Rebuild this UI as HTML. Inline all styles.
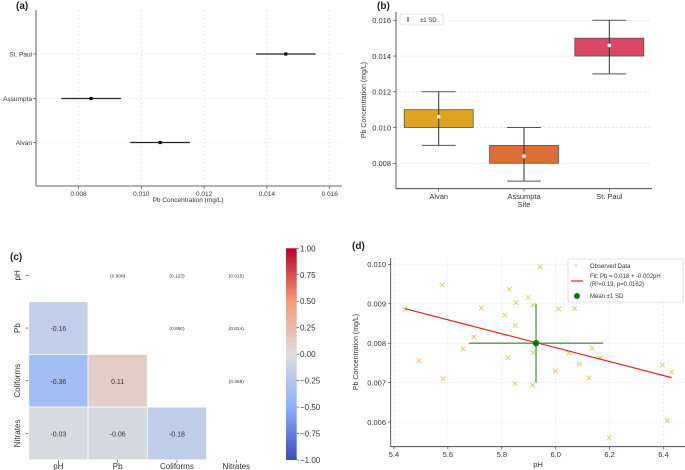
<!DOCTYPE html>
<html><head><meta charset="utf-8"><style>
html,body{margin:0;padding:0;background:#fff}
svg{display:block;font-family:"Liberation Sans",sans-serif}
</style></head><body>
<svg id="s" width="685" height="470" viewBox="0 0 685 470" xmlns="http://www.w3.org/2000/svg"></svg>
<script>
// ---- Panel a data
const aSites=["Alvan","Assumpta","St. Paul"];
const aMeans=[0.0106,0.0084,0.0146];
const aSD=[0.00095,0.00095,0.00095];
const aTicks=[0.008,0.010,0.012,0.014,0.016];
// ---- Panel b data
const bSites=["Alvan","Assumpta","St. Paul"];
const bQ1=[0.010,0.008,0.014];
const bQ3=[0.011,0.009,0.015];
const bMeans=[0.0106,0.0084,0.0146];
const bLow=[0.009,0.007,0.013];
const bHigh=[0.012,0.010,0.016];
const bTicks=[0.008,0.010,0.012,0.014,0.016];
// ---- Panel c data
const cVars=["pH","Pb","Coliforms","Nitrates"];
const cLower=[[1,0.0,-0.16,-0.36,-0.03]];
const cR=[[null,null,null,null],[-0.16,null,null,null],[-0.36,0.11,null,null],[-0.03,-0.06,-0.18,null]];
const cP=[[null,"(0.508)","(0.123)","(0.915)"],[null,null,"(0.650)","(0.814)"],[null,null,null,"(0.458)"],[null,null,null,null]];
const cbTicks=[1.00,0.75,0.50,0.25,0.00,-0.25,-0.50,-0.75,-1.00];
// ---- Panel d data
const dPH=[5.441,5.579,5.493,5.582,5.656,5.696,5.724,5.812,5.828,5.852,5.850,5.823,5.850,5.898,5.915,5.942,5.916,5.914,6.011,6.070,5.999,6.049,6.088,6.135,6.123,6.165,6.198,6.396,6.430,6.414];
const dPb=[0.00886,0.00948,0.00756,0.0071,0.00786,0.00816,0.00889,0.00871,0.00937,0.00903,0.00845,0.00763,0.00697,0.00916,0.00897,0.00994,0.00776,0.00694,0.00887,0.00888,0.00729,0.00775,0.00747,0.00787,0.00712,0.00762,0.0056,0.00745,0.00727,0.00604];
const dFit=[0.018507,-0.00177];
const dFitRange=[5.441,6.43];
const dMean=[5.927,0.0080];
const dSD=[0.249,0.001];
const dXTicks=[5.4,5.6,5.8,6.0,6.2,6.4];
const dYTicks=[0.006,0.007,0.008,0.009,0.010];

const S=document.getElementById('s');
const NS="http://www.w3.org/2000/svg";
function mk(tag,at,parent){const e=document.createElementNS(NS,tag);for(const k in at)e.setAttribute(k,at[k]);(parent||S).appendChild(e);return e;}
function tx(str,x,y,at,parent){const e=mk('text',Object.assign({x:x,y:y,'font-size':7,fill:'#333'},at||{}),parent);e.textContent=str;return e;}
function grp(name){const g=mk('g',{});return g;}

// ===== Panel a
{
const g=grp('panel-a');
const ax=v=>78.5+(v-0.008)/0.002*62.8;
const ay=i=>[142.5,98.5,54][i];
tx('(a)',16,9,{'font-size':10,'font-weight':'bold',fill:'#222'},g);
aTicks.forEach(t=>{const x=ax(t);mk('line',{x1:x,x2:x,y1:10,y2:186,stroke:'#ddd','stroke-dasharray':'2,2','stroke-width':0.6},g);
 mk('line',{x1:x,x2:x,y1:186,y2:189,stroke:'#333','stroke-width':0.6},g);
 const l=tx(t.toFixed(3),x,196,{'text-anchor':'middle','font-size':6.5},g);});
aSites.forEach((s,i)=>{const y=ay(i);mk('line',{x1:36,x2:342,y1:y,y2:y,stroke:'#ddd','stroke-dasharray':'2,2','stroke-width':0.6},g);
 mk('line',{x1:33,x2:36,y1:y,y2:y,stroke:'#333','stroke-width':0.6},g);
 tx(s,32,y+2.5,{'text-anchor':'end','font-size':6.5},g);
 const e=mk('line',{x1:ax(aMeans[i]-aSD[i]),x2:ax(aMeans[i]+aSD[i]),y1:y,y2:y,stroke:'#222','stroke-width':1.3},g);
 
 const m=mk('rect',{x:ax(aMeans[i])-1.6,y:y-1.6,width:3.2,height:3.2,fill:'#111'},g);
 });
mk('line',{x1:36,x2:36,y1:10,y2:186,stroke:'#333','stroke-width':0.8},g);
mk('line',{x1:36,x2:342,y1:186,y2:186,stroke:'#333','stroke-width':0.8},g);
const xl=tx('Pb Concentration (mg/L)',188,202,{'text-anchor':'middle','font-size':6.5},g);
}
// ===== Panel b
{
const g=grp('panel-b');
const by=v=>163.3-(v-0.008)/0.002*35.75;
const bx=i=>[438.7,524,609.3][i];
const cols=['#DFA421','#DC6E38','#DB4866'];
tx('(b)',377,9,{'font-size':10,'font-weight':'bold',fill:'#222'},g);
bTicks.forEach(t=>{const y=by(t);mk('line',{x1:396,x2:652,y1:y,y2:y,stroke:'#ddd','stroke-dasharray':'2,2','stroke-width':0.6},g);
 mk('line',{x1:393,x2:396,y1:y,y2:y,stroke:'#333','stroke-width':0.6},g);
 tx(t.toFixed(3),391,y+2.8,{'text-anchor':'end','font-size':7.5},g);});
bSites.forEach((s,i)=>{const x=bx(i);
 mk('line',{x1:x,x2:x,y1:188.7,y2:191.5,stroke:'#333','stroke-width':0.6},g);
 tx(s,x,199,{'text-anchor':'middle','font-size':7.5},g);
 const bx0=mk('rect',{x:x-34.5,y:by(bQ3[i]),width:69,height:by(bQ1[i])-by(bQ3[i]),fill:cols[i],stroke:'#555','stroke-width':0.8},g);
 
 mk('line',{x1:x,x2:x,y1:by(bHigh[i]),y2:by(bLow[i]),stroke:'#333','stroke-width':1},g);
 [bHigh[i],bLow[i]].forEach(v=>mk('line',{x1:x-17,x2:x+17,y1:by(v),y2:by(v),stroke:'#555','stroke-width':1},g));
 mk('circle',{cx:x,cy:by(bMeans[i]),r:1.8,fill:'#fff'},g);});
mk('line',{x1:396,x2:396,y1:12,y2:188.7,stroke:'#333','stroke-width':0.8},g);
mk('line',{x1:396,x2:652,y1:188.7,y2:188.7,stroke:'#333','stroke-width':0.8},g);
tx('Site',524,207,{'text-anchor':'middle','font-size':7.5},g);
tx('Pb Concentration (mg/L)',0,0,{'text-anchor':'middle','font-size':7,transform:'translate(366,100) rotate(-90)'},g);
const lg=mk('g',{},g);
mk('rect',{x:400,y:14,width:43,height:11,fill:'#fff',stroke:'#ccc','stroke-width':0.6,rx:1.5},lg);
mk('line',{x1:408,x2:408,y1:17,y2:22,stroke:'#333','stroke-width':1},lg);
tx('±1 SD',420,22,{'font-size':6},lg);
}
// ===== Panel c
{
const g=grp('panel-c');
const cx0=28.7,cw=59.3,cy0=249,ch=52.7;
tx('(c)',10,260,{'font-size':10,'font-weight':'bold',fill:'#222'},g);
function cmap(v){const stops=[[-1,[59,76,192]],[-0.5,[141,176,254]],[0,[221,221,221]],[0.5,[244,154,123]],[1,[180,4,38]]];
 for(let k=0;k<stops.length-1;k++){const[a,ca]=stops[k],[b,cb]=stops[k+1];if(v>=a&&v<=b){const t=(v-a)/(b-a);return 'rgb('+ca.map((c,j)=>Math.round(c+(cb[j]-c)*t)).join(',')+')';}}return '#ddd';}
cVars.forEach((v,r)=>{
 tx(v,0,0,{'text-anchor':'middle','font-size':8,transform:'translate('+(20)+','+(cy0+ch*r+ch/2)+') rotate(-90)'},g);
 mk('line',{x1:cx0-3,x2:cx0,y1:cy0+ch*r+ch/2,y2:cy0+ch*r+ch/2,stroke:'#333','stroke-width':0.6},g);
 tx(v,cx0+cw*r+cw/2,469,{'text-anchor':'middle','font-size':8},g);
 mk('line',{x1:cx0+cw*r+cw/2,x2:cx0+cw*r+cw/2,y1:cy0+4*ch,y2:cy0+4*ch+3,stroke:'#333','stroke-width':0.6},g);
 cVars.forEach((w,c)=>{const val=cR[r][c];const x=cx0+cw*c,y=cy0+ch*r;
  if(val!==null){const cell=mk('rect',{x:x,y:y,width:cw,height:ch,fill:cmap(val),stroke:'#fff','stroke-width':0.8},g);
   
   tx(val.toFixed(2),x+cw/2,y+ch/2+3,{'text-anchor':'middle','font-size':7},g);}
  if(cP[r][c]) tx(cP[r][c],x+cw/2,y+ch/2+2,{'text-anchor':'middle','font-size':4.8},g);});});
const cb=mk('g',{},g);
const gr=mk('linearGradient',{id:'cbg',x1:0,y1:0,x2:0,y2:1},mk('defs',{},cb));
[1,0.5,0,-0.5,-1].forEach((v,k)=>mk('stop',{offset:k*0.25,'stop-color':cmap(v)},gr));
const cbT=248.3,cbB=460;
mk('rect',{x:286,y:cbT,width:10.7,height:cbB-cbT,fill:'url(#cbg)'},cb);
cbTicks.forEach(t=>{const y=cbT+(1-t)/2*(cbB-cbT);mk('line',{x1:296.7,x2:299,y1:y,y2:y,stroke:'#333','stroke-width':0.6},cb);
 tx((t<0?'\u2212':'')+Math.abs(t).toFixed(2),300,y+3,{'font-size':8},cb);});
}
// ===== Panel d
{
const g=grp('panel-d');
const dx=v=>394+(v-5.4)/0.2*53.9;
const dy=v=>422-(v-0.006)/0.001*39.4;
tx('(d)',352,249,{'font-size':10,'font-weight':'bold',fill:'#222'},g);
dXTicks.forEach(t=>{const x=dx(t);mk('line',{x1:x,x2:x,y1:258,y2:446.7,stroke:'#e3e3e3','stroke-dasharray':'2,2','stroke-width':0.6},g);
 mk('line',{x1:x,x2:x,y1:446.7,y2:449.5,stroke:'#333','stroke-width':0.6},g);
 tx(t.toFixed(1),x,457,{'text-anchor':'middle','font-size':7.5},g);});
dYTicks.forEach(t=>{const y=dy(t);mk('line',{x1:390.7,x2:685,y1:y,y2:y,stroke:'#e3e3e3','stroke-dasharray':'2,2','stroke-width':0.6},g);
 mk('line',{x1:388,x2:390.7,y1:y,y2:y,stroke:'#333','stroke-width':0.6},g);
 tx(t.toFixed(3),386,y+2.8,{'text-anchor':'end','font-size':7.5},g);});
dPH.forEach((p,i)=>{const x=dx(p),y=dy(dPb[i]);
 const m=mk('path',{d:`M${x-2.3},${y-2.3}L${x+2.3},${y+2.3}M${x-2.3},${y+2.3}L${x+2.3},${y-2.3}`,stroke:'#F9C25A','stroke-width':0.9},g);
 });
const f=mk('line',{x1:dx(dFitRange[0]),y1:dy(dFit[0]+dFit[1]*dFitRange[0]),x2:dx(dFitRange[1]),y2:dy(dFit[0]+dFit[1]*dFitRange[1]),stroke:'#E8231F','stroke-width':1.2},g);

mk('line',{x1:dx(dMean[0]-dSD[0]),x2:dx(dMean[0]+dSD[0]),y1:dy(dMean[1]),y2:dy(dMean[1]),stroke:'#2E8B2E','stroke-width':1.3,opacity:0.85},g);
mk('line',{x1:dx(dMean[0]),x2:dx(dMean[0]),y1:dy(dMean[1]-dSD[1]),y2:dy(dMean[1]+dSD[1]),stroke:'#2E8B2E','stroke-width':1.3,opacity:0.85},g);
const mp=mk('circle',{cx:dx(dMean[0]),cy:dy(dMean[1]),r:3.2,fill:'#117711'},g);

mk('line',{x1:390.7,x2:390.7,y1:258,y2:446.7,stroke:'#333','stroke-width':0.8},g);
mk('line',{x1:390.7,x2:685,y1:446.7,y2:446.7,stroke:'#333','stroke-width':0.8},g);
tx('pH',538,467,{'text-anchor':'middle','font-size':7.5},g);
tx('Pb Concentration (mg/L)',0,0,{'text-anchor':'middle','font-size':7,transform:'translate(358,352) rotate(-90)'},g);
const lg=mk('g',{},g);
mk('rect',{x:568,y:259,width:115,height:43,fill:'#fff',stroke:'#ccc','stroke-width':0.6,rx:1.5},lg);
tx('×',574,268,{'font-size':7,fill:'#F9C25A'},lg);
tx('Observed Data',590,268,{'font-size':6},lg);
mk('line',{x1:571,x2:583,y1:281,y2:281,stroke:'#E8231F','stroke-width':1.2},lg);
tx('Fit: Pb = 0.018 + -0.002pH',590,278,{'font-size':6},lg);
tx('(R²=0.19, p=0.0162)',590,286,{'font-size':6},lg);
mk('circle',{cx:577,cy:296,r:3,fill:'#117711'},lg);
tx('Mean ±1 SD',590,298,{'font-size':6},lg);
}
</script>
</body></html>
